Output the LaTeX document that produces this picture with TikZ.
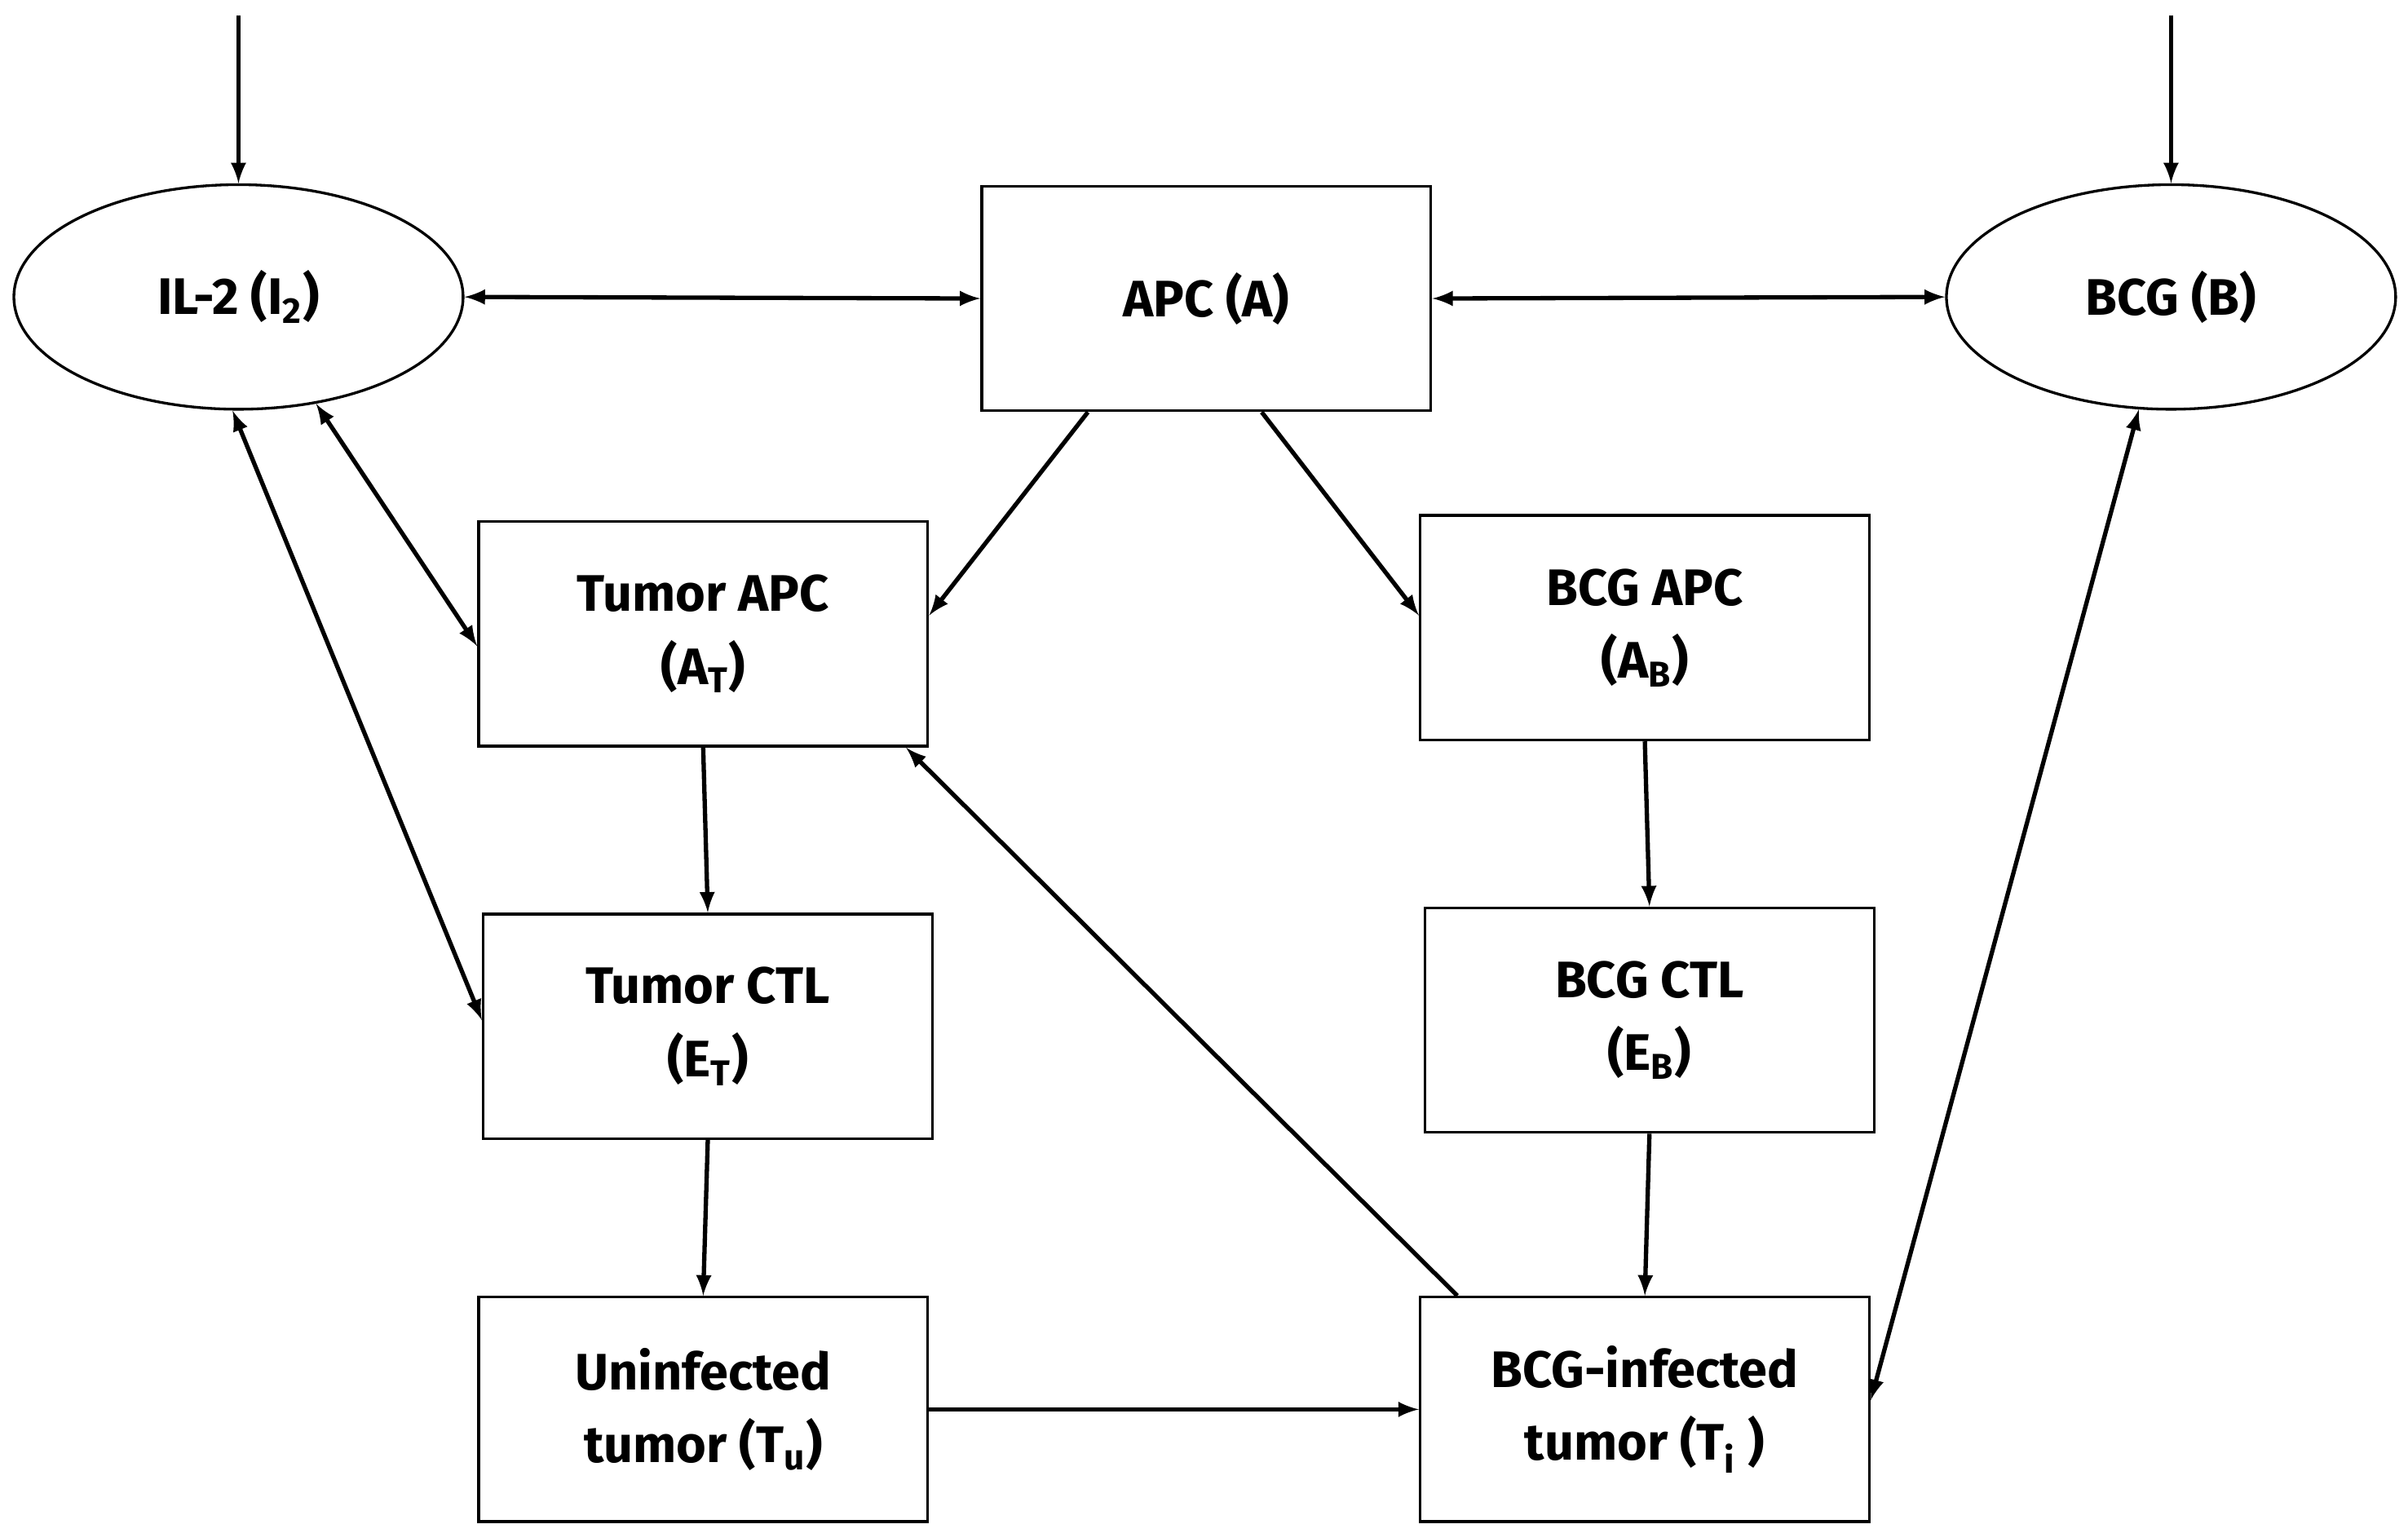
\documentclass[tikz,border=0pt]{standalone}
\usepackage{fontspec}
\setmainfont{Fira Sans}
\usetikzlibrary{shapes.geometric}
\tikzset{
  box/.style={draw, line width=1pt, minimum width=5.84cm, minimum height=2.92cm, align=center, font=\bfseries\fontsize{19}{27}\selectfont},
  oval/.style={draw, ellipse, line width=1pt, minimum width=5.84cm, minimum height=2.92cm, font=\bfseries\fontsize{19}{27}\selectfont},
  link/.style={-latex, line width=1.6pt},
  both/.style={latex-latex, line width=1.6pt}
}
\begin{document}
\begin{tikzpicture}[x=0.02cm, y=-0.02cm]
\useasboundingbox (0,0) rectangle (1565,996);
\node (il2)[oval] at (155,193) {IL-2 (I\textsubscript{2})};
\node (apc)[box] at (784,194) {APC (A)};
\node (bcg)[oval] at (1411,193) {BCG (B)};
\node (tapc)[box] at (457,412) {Tumor APC\\(A\textsubscript{T})};
\node (bapc)[box] at (1069,408) {BCG APC\\(A\textsubscript{B})};
\node (tctl)[box] at (460,667) {Tumor CTL\\(E\textsubscript{T})};
\node (bctl)[box] at (1072,663) {BCG CTL\\(E\textsubscript{B})};
\node (unin)[box] at (457,916) {Uninfected\\tumor (T\textsubscript{u})};
\node (binf)[box] at (1069,916) {BCG-infected\\tumor (T\textsubscript{i} )};
\coordinate (in1) at (155,10);
\coordinate (in2) at (1411,10);
% inputs
\draw[link] (in1) -- (il2.north);
\draw[link] (in2) -- (bcg.north);
% exchanges
\draw[both] (il2.east) -- (apc.west);
\draw[both] (apc.east) -- (bcg.west);
\draw[both] (il2.-54) -- ([yshift=-0.16cm]tapc.west);
\draw[both] (il2.-93) -- ([yshift=0.08cm]tctl.west);
\draw[both] (bcg.-106) -- ([yshift=0.12cm]binf.east);
% flow
\draw[link] ([xshift=-1.54cm]apc.south) -- ([yshift=0.24cm]tapc.east);
\draw[link] ([xshift=0.72cm]apc.south) -- ([yshift=0.16cm]bapc.west);
\draw[link] (tapc.south) -- (tctl.north);
\draw[link] (bapc.south) -- (bctl.north);
\draw[link] (tctl.south) -- (unin.north);
\draw[link] (bctl.south) -- (binf.north);
\draw[link] (unin.east) -- (binf.west);
\draw[link] ([xshift=0.5cm]binf.north west) -- ([xshift=-0.3cm]tapc.south east);
\end{tikzpicture}
\end{document}
